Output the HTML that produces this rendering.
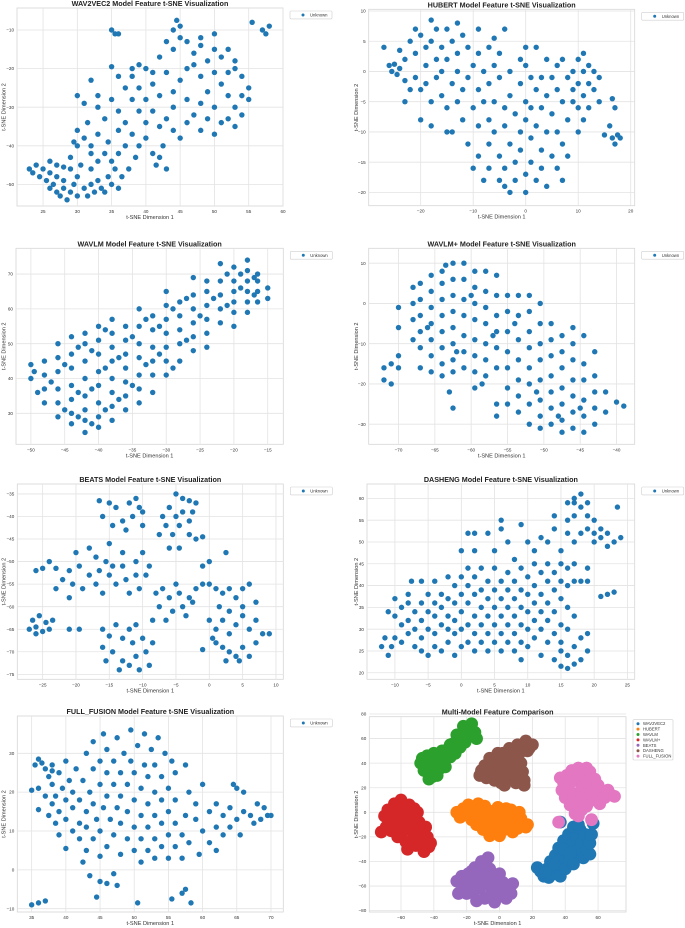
<!DOCTYPE html>
<html><head><meta charset="utf-8">
<style>
html,body{margin:0;padding:0;background:#fff;}
svg{display:block;font-family:"Liberation Sans","DejaVu Sans",sans-serif;}
</style></head>
<body>
<svg id="fig" width="685" height="928" viewBox="0 0 685 928" xmlns="http://www.w3.org/2000/svg"></svg>
<script>
// ---- data (t-SNE coordinates) ----
const wav2vecPts=[[23,-46],[23.5,-47],[24,-45],[24.5,-48],[25,-46],[25.5,-49],[26,-47],[26,-51],[26.5,-50],[27,-52],[27.5,-53],[27,-48],[28,-51],[28.5,-54],[28,-49],[29,-52],[29.5,-50],[30,-53],[30,-48],[31,-51],[31.5,-53],[32,-50],[32.5,-52],[33,-49],[33.5,-51],[34,-52],[34.5,-48],[35,-50],[36,-51],[35.5,-46],[30.5,-45],[29,-46],[28,-45.5],[27,-45],[32,-46],[33,-44],[34,-42],[32,-40],[31,-38],[30,-36],[29.5,-39],[31.5,-34],[33,-37],[34.5,-39],[35,-44],[36,-42],[37,-40],[36,-36],[34,-33],[33,-30],[35,-28],[36,-31],[37,-34],[38,-37],[38.5,-43],[37.5,-46],[36.5,-48],[39,-40],[40,-38],[41,-42],[41.5,-45],[42,-43],[43,-46],[42.5,-40],[40,-34],[39,-31],[38,-28],[37,-25],[36,-22],[35,-19.5],[32,-23],[33,-27],[31,-29],[30,-27],[30,-40],[29,-43],[38,-22],[39,-25],[40,-28],[41,-31],[42,-35],[43,-33],[44,-30],[41,-24],[42,-27],[43,-21],[42,-17],[44,-15],[45,-12],[44,-10],[45,-9],[46,-13],[47,-16],[46,-20],[45,-23],[44,-26],[46,-28],[47,-32],[48,-29],[46,-34],[48,-36],[49,-33],[50,-37],[51,-34],[50,-30],[49,-26],[48,-22],[47,-19],[49,-18],[50,-15],[48,-14],[51,-17],[52,-15],[53,-18],[50,-21],[51,-24],[52,-27],[53,-30],[52,-33],[53,-35],[54,-32],[54,-27],[55,-25],[54,-22],[53,-20],[52,-21],[55,-28],[50,-11],[48,-12],[43,-13],[40,-20],[39,-19],[35,-10],[35.5,-11],[36,-11],[57,-10],[57.5,-11],[58,-9],[55.5,-8],[44.5,-7.5],[44,-36],[45,-38],[38,-20],[41,-21],[32,-42],[26,-44]];
const hubertPts=[[-27,4],[-26,1],[-25.5,0],[-25,1.2],[-24.5,-0.5],[-24,0.5],[-24,3.5],[-23,2],[-23,-1.5],[-22,-3],[-22,5],[-21,7],[-21,3],[-21,-1],[-20,-3],[-20,6],[-19,4],[-19,1],[-19,-2],[-18,8.5],[-18,5],[-18,-5],[-17,7],[-17,2],[-17,-1],[-16,4],[-16,0],[-16,-4],[-15,7],[-15,2],[-15,-6],[-14,5],[-14,-2],[-14,-10],[-13,8],[-13,3],[-13,0],[-13,-5],[-12,6],[-12,-3],[-12,-8],[-11,4],[-11,-1],[-11,-12],[-10,1],[-10,-6],[-10,-16],[-9,7],[-9,3],[-9,-3],[-9,-9],[-9,-14],[-8,0],[-8,-5],[-8,-18],[-7,4],[-7,-2],[-7,-8],[-7,-12],[-7,-16],[-6,5.5],[-6,1],[-6,-5],[-6,-10],[-5,-14],[-5,-18],[-5,3],[-5,-1],[-4,-6],[-4,-9],[-4,-16],[-4,-19],[-3,0],[-3,-4],[-3,-12],[-3,-20],[-2,-7],[-2,-15],[-2,-18],[-1,2],[-1,-2],[-1,-10],[-1,-13],[0,-5],[0,-8],[0,-17],[0,-20],[0,4],[0,1],[1,-1],[1,-6],[1,-11],[1,-15],[2,-3],[2,-9],[2,-18],[2,4],[3,-1],[3,-6],[3,-13],[3,-16],[4,2],[4,-4],[4,-10],[4,-19],[5,-7],[5,-14],[5,-1],[6,-3],[6,-10],[6,-16],[6,1],[7,-5],[7,-12],[7,-18],[7,2],[8,-1],[8,-8],[8,-14],[9,-3],[9,0],[9,-5],[10,2],[10,-2],[10,-6],[10,-10],[11,0],[11,-4],[11,3],[12,1],[12,-2],[12,-6],[13,0],[13,-3],[14,-1],[14,-5],[11,-8],[16,-9],[16.5,-11],[17,-12],[17.5,-10.5],[18,-11],[17,-6],[16.5,-4.5],[15,-10.5],[-20,-8],[-18,-9],[-23,-5],[-4,7],[-15,-10]];
const wavlmPts=[[-50,40],[-50,44],[-49.5,42],[-48,33],[-48,37],[-48,41],[-48,45],[-46,29],[-46,33],[-46,37],[-46,42],[-46,46],[-46,50],[-44,27],[-44,30],[-44,34],[-44,38],[-44,43],[-44,47],[-44,52],[-42,24.5],[-42,28],[-42,31],[-42,35],[-42,40],[-42,45],[-42,50],[-42,53],[-40,26],[-40,29],[-40,33],[-40,38],[-40,42],[-40,47],[-40,51],[-40,55],[-38,28],[-38,32],[-38,36],[-38,40],[-38,45],[-38,49],[-38,53],[-38,57],[-36,31],[-36,35],[-36,39],[-36,43],[-36,47],[-36,51],[-36,55],[-34,33],[-34,37],[-34,41],[-34,46],[-34,50],[-34,55],[-34,60],[-32,36],[-32,41],[-32,45],[-32,49],[-32,54],[-32,58],[-30,41],[-30,45],[-30,49],[-30,53],[-30,57],[-30,61],[-30,65],[-28,45],[-28,50],[-28,54],[-28,58],[-28,62],[-26,48],[-26,52],[-26,56],[-26,60],[-26,64],[-26,69],[-24,49],[-24,53],[-24,57],[-24,61],[-24,65],[-24,68],[-22,56],[-22,60],[-22,64],[-22,68],[-22,73],[-20,55],[-20,59],[-20,62],[-20,65],[-20,68],[-20,72],[-18,59],[-18,62],[-18,65],[-18,68],[-18,71],[-18,74],[-16.5,62],[-16.5,65],[-16.5,68],[-16.5,70],[-15,63],[-15,66],[-49,36],[-47,39],[-45,31],[-45,44],[-43,29],[-43,36],[-43,49],[-41,27],[-41,37],[-41,48],[-39,31],[-39,43],[-39,54],[-37,34],[-37,46],[-35,38],[-35,52],[-33,44],[-33,57],[-31,47],[-31,55],[-29,43],[-29,60],[-27,51],[-27,63],[-25,58],[-23,63],[-21,61],[-21,70],[-19,66],[-19,70],[-17,64],[-17,69]];
const wavlmPlusPts=[[-72,-16],[-72,-19],[-71,-15],[-71,-20],[-70,-1],[-70,-6],[-70,-16],[-70,-13],[-68,4],[-68,0],[-68,-4],[-68,-9],[-67,5],[-67,1],[-67,-3],[-67,-7],[-67,-11],[-67,-16],[-65.5,7],[-65.5,3],[-65.5,-1],[-65.5,-5],[-65.5,-9],[-65.5,-13],[-65.5,-17],[-64,8],[-64,5],[-64,1],[-64,-3],[-64,-7],[-64,-11],[-64,-15],[-64,-18],[-62.5,10],[-62.5,6],[-62.5,2],[-62.5,-2],[-62.5,-6],[-62.5,-10],[-62.5,-14],[-62.5,-17],[-63,-22],[-62.5,-26],[-61,10],[-61,6],[-61,1],[-61,-3],[-61,-8],[-61,-12],[-61,-16],[-59.5,8],[-59.5,4],[-59.5,0],[-59.5,-4],[-59.5,-9],[-59.5,-13],[-59.5,-17],[-59.5,-21],[-58,8],[-58,3],[-58,-1],[-58,-5],[-58,-10],[-58,-14],[-58,-18],[-56.5,7],[-56.5,2],[-56.5,-3],[-56.5,-7],[-56.5,-11],[-56.5,-16],[-56.5,-25],[-56.5,-28],[-55,2],[-55,-2],[-55,-7],[-55,-12],[-55,-16],[-55,-21],[-55,-25],[-53.5,2],[-53.5,-3],[-53.5,-9],[-53.5,-14],[-53.5,-19],[-53.5,-23],[-53.5,-27],[-52,2],[-52,-2],[-52,-7],[-52,-11],[-52,-16],[-52,-20],[-52,-25],[-52,-30],[-50.5,0],[-50.5,-5],[-50.5,-10],[-50.5,-14],[-50.5,-19],[-50.5,-24],[-50.5,-28],[-50.5,-31],[-49,-5],[-49,-9],[-49,-13],[-49,-18],[-49,-22],[-49,-26],[-49,-30],[-47.5,-8],[-47.5,-12],[-47.5,-16],[-47.5,-21],[-47.5,-25],[-47.5,-29],[-47.5,-32],[-46,-6],[-46,-10],[-46,-14],[-46,-19],[-46,-23],[-46,-27],[-46,-31],[-44.5,-8],[-44.5,-15],[-44.5,-19],[-44.5,-24],[-44.5,-28],[-44.5,-32],[-43,-12],[-43,-18],[-43,-22],[-43,-26],[-43,-30],[-41.5,-22],[-41.5,-27],[-40,-24.5],[-39,-25.5],[-63.5,9.5],[-60,2],[-57,-8],[-54,-5],[-51,-22],[-48,-28],[-45,-26],[-66,-6],[-62,-12],[-58.5,-20]];
const beatsPts=[[-16.5,-36.5],[-15,-37],[-16,-40],[-14,-38],[-13,-41],[-12,-37],[-11,-36],[-10.5,-38],[-11.5,-40],[-12.5,-43],[-10,-42],[-14.5,-42],[-10,-39],[-5,-35],[-4,-36],[-3,-36.5],[-2,-37],[-6,-38],[-5,-40],[-4,-39],[-3,-41],[-2.5,-39],[-6.5,-42],[-5.5,-44],[-4.5,-42],[-3,-44],[-7.5,-44],[-6,-47],[-4.5,-47],[-2,-45],[-1,-44.5],[-7,-40],[-26,-52],[-25,-51.5],[-24,-50],[-23,-51.5],[-22,-54],[-23,-56],[-21,-52],[-20.5,-55],[-20,-48],[-19.5,-51],[-19,-56],[-18,-53],[-17,-49],[-17,-55],[-16.5,-52],[-16,-57],[-15.5,-50],[-15,-53],[-14.5,-51],[-14,-55],[-13,-48],[-13,-51],[-12.5,-54],[-12,-57],[-11,-50],[-11,-53],[-10.5,-56],[-10,-48],[-9.5,-53],[-9,-51],[-21,-58],[-18,-47],[-15,-46],[-27,-65],[-26.5,-63],[-26,-64.5],[-25.5,-62],[-25,-65.5],[-24.5,-63.5],[-24,-65],[-26,-66],[-23.5,-63],[-21,-65],[-19.5,-65],[-8,-57],[-7,-56],[-6,-58],[-5,-55],[-4.5,-57],[-4,-60],[-3,-58],[-5.5,-61],[-6.5,-63],[-3.5,-62],[-2,-56],[-7.5,-60],[-2.5,-59],[-1,-55],[0,-55],[-1,-51],[0,-50],[-8.5,-63],[-16,-65],[-15,-66.5],[-14,-64],[-13,-67],[-16,-69],[-14.5,-70],[-13,-72],[-12,-65],[-11,-64],[-11.5,-68],[-12,-73],[-11,-71],[-10.5,-74],[-10,-67],[-9.5,-70],[-9,-73],[-8.5,-68],[-15.5,-72],[-13.5,-74],[1,-56],[2,-57],[3,-56],[4,-58],[5,-56],[6,-55],[1.5,-60],[3,-61],[5,-60],[7,-59],[0,-63],[1,-65],[2,-63],[3,-66],[4,-64],[5,-62],[6,-65],[7,-63],[8,-66],[2,-69],[3,-70],[4,-71],[5,-69],[6,-71],[1,-68],[0.5,-67],[7,-68],[9,-66],[2.5,-72],[4.5,-72],[2.5,-48],[-1,-69.5]];
const dashengPts=[[-12,26],[-11.5,28],[-11,24],[-11,34],[-10.5,26],[-10,28],[-10,33],[-10,37],[-9,27],[-9,31],[-9,35],[-8,29],[-8,32],[-8,36],[-8,38],[-7.5,41],[-7,26],[-7,30],[-7,34],[-6,25],[-6,28],[-6,32],[-6,36],[-6,41],[-5,24],[-5,30],[-5,34],[-5,38],[-4,26],[-4,29],[-4,33],[-4,36],[-4,41],[-3,25],[-3,31],[-3,35],[-3,38],[-2,27],[-2,30],[-2,33],[-2,37],[-2,42],[-1,24],[-1,29],[-1,32],[-1,36],[-1,40],[0,26],[0,30],[0,34],[0,38],[0,42],[0,48],[1,27],[1,31],[1,36],[1,40],[1,44],[1,52],[2,25],[2,29],[2,33],[2,38],[2,42],[2,48],[2,52],[3,27],[3,31],[3,35],[3,39],[3,44],[4,25],[4,29],[4,33],[4,37],[4,41],[4,52],[5,27],[5,31],[5,35],[5,39],[5,44],[5,48],[6,25],[6,29],[6,33],[6,37],[6,41],[6,53],[6,55],[7,27],[7,31],[7,35],[7,39],[7,43],[7,50],[8,25],[8,29],[8,33],[8,37],[8,41],[8,46],[9,23],[9,27],[9,31],[9,35],[9,39],[9,44],[9,54],[10,26],[10,30],[10,34],[10,38],[10,42],[10,50],[11,28],[11,32],[11,36],[11,40],[11,45],[11,48],[12,24],[12,30],[12,34],[12,38],[12,43],[12,51],[13,27],[13,32],[13,36],[13,41],[13,45],[13,50],[14,23],[14,29],[14,34],[14,39],[14,43],[14,53],[14,56],[15,21.5],[15,25],[15,27],[15,31],[15,37],[15,41],[15,45],[15,48],[16,21],[16,24],[16,30],[16,35],[16,40],[16,44],[16,52],[16,55],[16,59],[17,22],[17,26],[17,33],[17,41],[17,45],[17,50],[17,56],[17,59],[17,60],[18,23],[18,28],[18,41],[18,52],[18,58],[18,61],[19,25],[19,29],[19,41],[19,44],[19,53],[19,56],[19,59],[20,50],[20,52],[20,55],[21,51],[21,53],[22,52],[22,49],[23,50],[21,37.5],[22,38],[23,38.5],[23.5,58],[24,51]];
const fusionPts=[[35,20.5],[35.5,27],[36,28.5],[36.5,27.5],[36,15.5],[36,21],[37,26],[37,19],[37.5,14],[37.5,24],[38,17],[38,22],[38,27],[38.5,12],[38.5,19],[39,25],[39,15],[39,9],[39.5,21],[40,28],[40,18],[40,13],[40,5.5],[40.5,23],[41,10],[41,16],[41,20],[41.5,26],[42,12],[42,8],[42,18],[42.5,23],[42.5,2],[43,30],[43,15],[43,5],[43,11],[43.5,20],[44,26],[44,17],[44,8],[44,33],[44.5,13],[45,22],[45,28],[45,3.5],[45,10],[45.5,35],[45.5,16],[46,19],[46,6],[46,25],[46,31],[46.5,13],[47,9],[47,22],[47,28],[47.5,34],[47.5,16],[48,4],[48,12],[48,19],[48,25],[48.5,30],[49,8],[49,15],[49,22],[49.5,36],[49.5,28],[50,5],[50,11],[50,18],[50,25],[50.5,32],[51,2],[51,8],[51,14],[51,21],[51.5,35],[51.5,27],[52,5],[52,11],[52,17],[52,24],[52.5,31],[53,3],[53,8],[53,14],[53,20],[53,27],[53.5,34],[54,6],[54,12],[54,18],[54,24],[54.5,30],[55,3],[55,9],[55,15],[55,21],[55.5,28],[56,6],[56,12],[56,18],[56,25],[57,9],[57,3],[57.5,14],[57.5,27],[58,20],[58,7],[59,13],[59,17],[59.5,4],[60,10],[60,22],[61,15],[61,7],[62,17],[62,11],[62,5],[63,14],[63,9],[64,16],[64,11],[64.5,22],[65,13],[65,21],[65.5,9],[66,15],[66,20],[67,14],[67.5,12],[68,17],[68.5,13],[69,16],[69.5,14],[70,14],[38,25.5],[36,-8.5],[35,-9],[37,-8],[43.5,-1.5],[45,-3],[46,-3.5],[47,-1],[47.5,-4],[44.5,-7],[50.5,-8.5],[55.5,-7.5],[57,-6],[57.5,-5],[58.3,-8.5]];
// multi-model comparison clusters
const cmpWav2vec=[[23,-45],[25,-48],[27,-52],[29,-46],[30,-53],[31,-40],[33,-50],[34,-35],[35,-44],[36,-29],[37,-52],[38,-38],[39,-23],[40,-46],[41,-32],[42,-18],[43,-40],[44,-26],[45,-12],[46,-35],[47,-20],[48,-30],[49,-14],[50,-25],[51,-37],[52,-18],[53,-30],[54,-22],[55,-34],[45,-42],[39,-30],[33,-42],[48,-10],[55,-25],[43,-33],[28,-49],[56,-18],[37,-8],[57,-9]];
const cmpHubert=[[-26,0],[-24,-4],[-22,3],[-20,-2],[-19,6],[-17,-6],[-16,2],[-14,-10],[-13,7],[-11,-3],[-10,-14],[-9,5],[-8,-8],[-6,1],[-5,-17],[-4,-5],[-3,-12],[-1,4],[0,-19],[1,-7],[2,-1],[3,-14],[5,-4],[6,-10],[7,2],[8,-16],[9,-2],[10,-8],[11,-13],[12,0],[13,-5],[14,-10],[16,-12],[17,-10],[-7,-14],[-12,-7],[-18,0],[4,3],[-2,-2],[-6,-19]];
const cmpWavlm=[[-48,40],[-47,44],[-45,38],[-44,33],[-43,27],[-42,43],[-40,48],[-40,35],[-38,30],[-37,40],[-35,50],[-35,45],[-33,37],[-31,52],[-30,45],[-28,56],[-27,48],[-25,60],[-24,53],[-22,64],[-21,57],[-19,68],[-18,62],[-17,72],[-15,65],[-14,60],[-44,46],[-46,34],[-42,38],[-39,42],[-36,36],[-33,47],[-30,55],[-26,63],[-22,70],[-41,29]];
const cmpWavlmPlus=[[-72,-16],[-70,-3],[-68,2],[-67,-8],[-66,-15],[-64,7],[-63,-3],[-62,-10],[-62,-20],[-60,10],[-59,2],[-58,-6],[-57,-14],[-57,-24],[-55,6],[-54,-2],[-53,-10],[-52,-18],[-51,-27],[-50,0],[-49,-8],[-48,-15],[-47,-24],[-46,-32],[-45,-12],[-44,-20],[-43,-28],[-42,-25],[-60,-16],[-65,-1],[-56,-30],[-52,3],[-49,-20],[-69,-12]];
const cmpBeats=[[-26,-56],[-25,-66],[-23,-52],[-21,-60],[-19,-50],[-17,-56],[-16,-65],[-15,-45],[-14,-72],[-13,-53],[-12,-62],[-11,-40],[-10,-48],[-9,-70],[-8,-58],[-7,-37],[-6,-46],[-5,-66],[-4,-53],[-3,-73],[-2,-60],[0,-50],[1,-66],[2,-57],[4,-70],[5,-62],[7,-66],[8,-58],[-20,-66],[-14,-61],[-9,-44],[-6,-55],[-1,-68],[3,-63],[-17,-48],[-10,-56]];
const cmpDasheng=[[-12,30],[-11,34],[-9,38],[-8,28],[-7,32],[-5,40],[-4,35],[-3,26],[-2,44],[0,38],[0,30],[1,24],[2,48],[3,42],[4,34],[5,27],[6,52],[7,45],[8,38],[9,30],[10,24],[11,55],[12,48],[13,40],[14,33],[15,26],[16,58],[17,50],[18,52],[15,22],[-10,31],[-6,44],[3,22],[8,50],[12,36],[6,32],[-1,48],[20,55]];
const cmpFusion=[[37,28],[38,18],[39,24],[40,12],[41,30],[42,20],[43,6],[44,34],[45,15],[46,26],[47,3],[48,36],[49,10],[50,20],[51,30],[52,14],[53,5],[54,24],[55,33],[56,18],[57,10],[58,27],[59,15],[60,22],[61,7],[62,17],[64,12],[66,18],[68,14],[70,13],[46,-1],[48,-3],[36,-8],[50,2],[43,25],[53,36],[45,8],[56,-6]];
const cmpNames=["WAV2VEC2","HUBERT","WAVLM","WAVLM+","BEATS","DASHENG","FULL_FUSION"];
const cmpSeries=[cmpWav2vec,cmpHubert,cmpWavlm,cmpWavlmPlus,cmpBeats,cmpDasheng,cmpFusion];
const wav2vecXT=[25,30,35,40,45,50,55,60], wav2vecYT=[-50,-40,-30,-20,-10];
const hubertXT=[-20,-10,0,10,20], hubertYT=[-20,-15,-10,-5,0,5,10];
const wavlmXT=[-50,-45,-40,-35,-30,-25,-20,-15], wavlmYT=[30,40,50,60,70];
const wavlmPlusXT=[-70,-65,-60,-55,-50,-45,-40], wavlmPlusYT=[-30,-20,-10,0,10];
const beatsXT=[-25,-20,-15,-10,-5,0,5,10], beatsYT=[-75,-70,-65,-60,-55,-50,-45,-40,-35];
const dashengXT=[-10,-5,0,5,10,15,20,25], dashengYT=[20,25,30,35,40,45,50,55,60];
const fusionXT=[35,40,45,50,55,60,65,70], fusionYT=[-10,0,10,20,30];
const cmpXT=[-60,-40,-20,0,20,40,60], cmpYT=[-80,-60,-40,-20,0,20,40,60,80];

const NS="http://www.w3.org/2000/svg";
const svg=document.getElementById('fig');
const COLORS=["#1f77b4","#ff7f0e","#2ca02c","#d62728","#9467bd","#8c564b","#e377c2"];
function mk(tag,attrs,parent){const e=document.createElementNS(NS,tag);for(const k in attrs)e.setAttribute(k,attrs[k]);(parent||svg).appendChild(e);return e;}
function fmt(v){return v<0?'\u2212'+Math.abs(v):String(v);}

function panel(cfg){
  const g=mk('g',{});
  
  
  const [L,T,R,B]=cfg.box;
  const sx=v=>L+(v-cfg.xd[0])/(cfg.xd[1]-cfg.xd[0])*(R-L);
  const sy=v=>B-(v-cfg.yd[0])/(cfg.yd[1]-cfg.yd[0])*(B-T);
  const bg=mk('rect',{x:L,y:T,width:R-L,height:B-T,fill:'#fff',stroke:'#d6d6d6','stroke-width':0.8},g);
  
  
  cfg.xt.forEach(v=>{
    const x=sx(v);
    const ln=mk('line',{x1:x,x2:x,y1:T,y2:B,stroke:'#e3e3e3','stroke-width':0.8},g);
    
    
    const t=mk('text',{x:x,y:B+7,'font-size':4.6,'text-anchor':'middle',fill:'#333'},g);
    
    
    t.textContent=fmt(v);
  });
  cfg.yt.forEach(v=>{
    const y=sy(v);
    const ln=mk('line',{x1:L,x2:R,y1:y,y2:y,stroke:'#e3e3e3','stroke-width':0.8},g);
    
    
    const t=mk('text',{x:L-3,y:y+1.6,'font-size':4.6,'text-anchor':'end',fill:'#333'},g);
    
    
    t.textContent=fmt(v);
  });
  cfg.series.forEach((pts,si)=>{
    const sg=mk('g',{fill:COLORS[si]},g);
    
    
    pts.forEach(p=>{
      const c=mk('circle',{cx:sx(p[0]),cy:sy(p[1]),r:cfg.r},sg);
      
      
    });
  });
  const tt=mk('text',{x:(L+R)/2,y:T-2,'font-size':7.2,'font-weight':'bold','text-anchor':'middle',fill:'#222'},g);
  
  
  tt.textContent=cfg.title;
  const xl=mk('text',{x:(L+R)/2,y:B+13,'font-size':5.6,'text-anchor':'middle',fill:'#333'},g);
  
  
  xl.textContent='t-SNE Dimension 1';
  const yx=cfg.ylx, yy=(T+B)/2;
  const yl=mk('text',{x:yx,y:yy,'font-size':5.6,'text-anchor':'middle',fill:'#333',transform:`rotate(-90 ${yx} ${yy})`},g);
  
  
  yl.textContent='t-SNE Dimension 2';
  const labels=cfg.labels||['Unknown'];
  const lx=R+7, ly=T+3, lw=cfg.labels?40:42, lh=labels.length*5.4+2.5;
  const lg=mk('g',{},g);
  
  
  mk('rect',{x:lx,y:ly,width:lw,height:lh,fill:'#fff',stroke:'#cfcfcf','stroke-width':0.6,rx:1},lg);
  labels.forEach((lab,i)=>{
    const cy=ly+4+i*5.4;
    const m=mk('circle',{cx:lx+(cfg.labels?5:13),cy:cy,r:1.5,fill:COLORS[i]},lg);
    
    
    const t=mk('text',{x:lx+(cfg.labels?10:20),y:cy+1.5,'font-size':4.2,fill:'#333'},lg);
    
    
    t.textContent=lab;
  });
}

panel({name:'wav2vec2',title:'WAV2VEC2 Model Feature t-SNE Visualization',box:[17,8,283,206],xd:[21.2,60],yd:[-55.6,-4.3],xt:wav2vecXT,yt:wav2vecYT,series:[wav2vecPts],r:2.7,ylx:5.5});
panel({name:'hubert',title:'HUBERT Model Feature t-SNE Visualization',box:[368.7,9.3,634.7,205.7],xd:[-29.9,20.76],yd:[-22.2,10.28],xt:hubertXT,yt:hubertYT,series:[hubertPts],r:2.7,ylx:358});
panel({name:'wavlm',title:'WAVLM Model Feature t-SNE Visualization',box:[16,248.3,283.3,444.3],xd:[-52.2,-12.7],yd:[21.1,77.4],xt:wavlmXT,yt:wavlmYT,series:[wavlmPts],r:2.7,ylx:5.5});
panel({name:'wavlm-plus',title:'WAVLM+ Model Feature t-SNE Visualization',box:[368.7,248.3,634.7,444.3],xd:[-74.1,-37.5],yd:[-35,13.7],xt:wavlmPlusXT,yt:wavlmPlusYT,series:[wavlmPlusPts],r:2.7,ylx:358});
panel({name:'beats',title:'BEATS Model Feature t-SNE Visualization',box:[17.3,484,283.3,679.3],xd:[-28.8,11.1],yd:[-76.1,-32.8],xt:beatsXT,yt:beatsYT,series:[beatsPts],r:2.7,ylx:5.5});
panel({name:'dasheng',title:'DASHENG Model Feature t-SNE Visualization',box:[367,484,634.7,679.3],xd:[-14.2,26.1],yd:[18.5,63.3],xt:dashengXT,yt:dashengYT,series:[dashengPts],r:2.7,ylx:358});
panel({name:'full-fusion',title:'FULL_FUSION Model Feature t-SNE Visualization',box:[17.3,716,283.3,912],xd:[32.9,71.8],yd:[-10.85,39.6],xt:fusionXT,yt:fusionYT,series:[fusionPts],r:2.7,ylx:5.5});
panel({name:'multi-model',title:'Multi-Model Feature Comparison',box:[369.3,716.7,626,912],xd:[-79.3,77],yd:[-81.1,77.8],xt:cmpXT,yt:cmpYT,series:cmpSeries,labels:cmpNames,r:6.4,ylx:358});
</script>
</body></html>
